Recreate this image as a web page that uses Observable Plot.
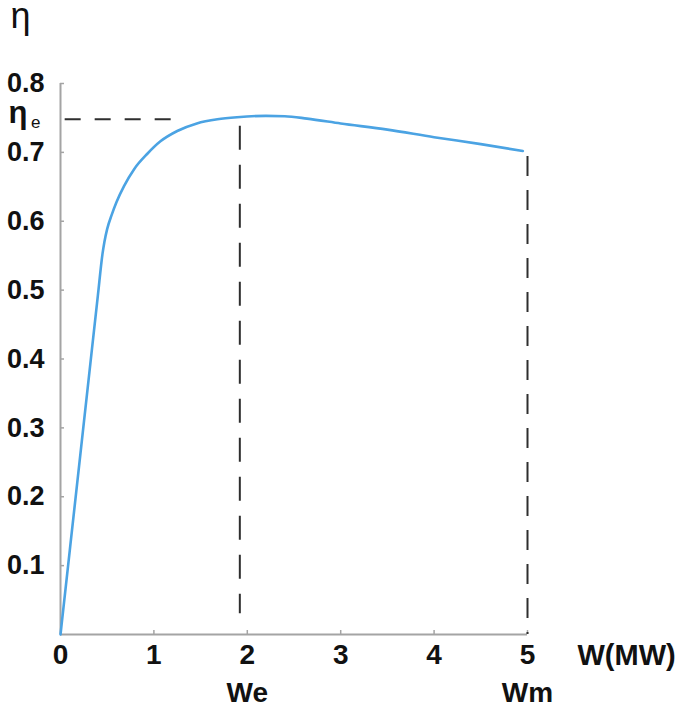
<!DOCTYPE html>
<html>
<head>
<meta charset="utf-8">
<script src="https://cdn.jsdelivr.net/npm/d3@7"></script>
<script src="https://cdn.jsdelivr.net/npm/@observablehq/plot@0.6"></script>
<style>
  html, body { margin: 0; padding: 0; background: #fff; }
</style>
</head>
<body>
<div id="chart"></div>
<script>
// power W (MW) and efficiency eta
const powerW = [0, 0.1, 0.2, 0.3, 0.4, 0.45, 0.47, 0.5, 0.55, 0.6, 0.68, 0.79, 0.93, 1.07, 1.25, 1.46, 1.68, 1.89, 2.2, 2.4, 2.64, 3.0, 3.5, 4.0, 4.5, 4.95];
const etaVals = [0, 0.123, 0.246, 0.369, 0.492, 0.553, 0.570, 0.589, 0.610, 0.628, 0.651, 0.676, 0.698, 0.716, 0.731, 0.742, 0.748, 0.751, 0.753, 0.7525, 0.749, 0.742, 0.733, 0.722, 0.712, 0.702];

const xTicks = [0, 1, 2, 3, 4, 5];
const yTicks = [0.1, 0.2, 0.3, 0.4, 0.5, 0.6, 0.7, 0.8];

// reference markers
const etaE = 0.748;     // ηe level
const etaEStart = 0.05; // horizontal dashed line extent
const etaEEnd = 1.31;
const We = 1.92;        // vertical dashed at We
const WeTop = 0.738;
const WeBottom = 0.03;
const Wm = 5;           // vertical dashed at Wm
const WmTop = 0.694;

const subLabelX = [2, 5];
const subLabelText = ["We", "Wm"];
const yTitle = "η";
const xTitle = "W(MW)";

const curve = powerW.map((w, i) => ({w, eta: etaVals[i]}));
const subLabels = subLabelX.map((x, i) => ({x, label: subLabelText[i]}));

const W = 685, H = 706;
const mL = 60, mR = 158, mT = 83, mB = 72;
const plotW = W - mL - mR, plotH = H - mT - mB;

const gray = "#a4a4a4";
const dark = "#2e2e2e";
const font = "Liberation Sans, Arial, sans-serif";

const chart = Plot.plot({
  width: W,
  height: H,
  marginLeft: mL,
  marginRight: mR,
  marginTop: mT,
  marginBottom: mB,
  x: {domain: [0, 5], axis: null, label: null},
  y: {domain: [0, 0.8], axis: null, label: null},
  style: {fontFamily: font, background: "#fff", overflow: "visible"},
  marks: [
    // axis lines
    Plot.ruleX([0], {y1: 0, y2: 0.8, stroke: gray, strokeWidth: 2}),
    Plot.ruleY([0], {x1: 0, x2: 5, stroke: gray, strokeWidth: 2}),
    // inward ticks
    Plot.tickX(xTicks.slice(1), {x: d => d, insetTop: plotH - 4, stroke: gray, strokeWidth: 1.5}),
    Plot.tickY(yTicks, {y: d => d, insetRight: plotW - 4, stroke: gray, strokeWidth: 1.5}),
    // tick labels
    Plot.axisX(xTicks, {label: null, tickSize: 0, tickPadding: 10, fontSize: 28, fontWeight: "bold", fill: "#111", tickFormat: d => String(d)}),
    Plot.axisY(yTicks, {label: null, tickSize: 0, tickPadding: 16, fontSize: 27, fontWeight: "bold", fill: "#111", tickFormat: d => d.toFixed(1), style: {letterSpacing: "1.5px"}}),
    // dashed reference lines
    Plot.ruleY([etaE], {x1: etaEStart, x2: etaEEnd, stroke: dark, strokeWidth: 2, strokeDasharray: "16,14"}),
    Plot.ruleX([We], {y1: WeTop, y2: WeBottom, stroke: dark, strokeWidth: 2, strokeDasharray: "24,15"}),
    Plot.ruleX([Wm], {y1: WmTop, y2: 0, stroke: dark, strokeWidth: 2, strokeDasharray: "20,14"}),
    // efficiency curve
    Plot.line(curve, {x: "w", y: "eta", stroke: "#4ba3e3", strokeWidth: 2.6, curve: "monotone-x"}),
    // ηe label
    Plot.text([etaE], {x: 0, y: d => d, text: () => "η", textAnchor: "end", lineAnchor: "bottom", dx: -33, dy: 4, fontSize: 31, fontWeight: "bold", fill: "#111"}),
    Plot.text([etaE], {x: 0, y: d => d, text: () => "e", textAnchor: "end", lineAnchor: "bottom", dx: -20, dy: 9, fontSize: 17, fill: "#111"}),
    // top-left η axis title
    Plot.text([yTitle], {text: d => d, frameAnchor: "top-left", textAnchor: "start", lineAnchor: "bottom", dx: -50, dy: -56, fontSize: 36, fill: "#111"}),
    // x axis title
    Plot.text([xTitle], {text: d => d, frameAnchor: "bottom-right", textAnchor: "start", lineAnchor: "top", dx: 50, dy: 10, fontSize: 29, fontWeight: "bold", fill: "#111"}),
    // We / Wm labels under ticks
    Plot.text(subLabels, {x: "x", text: "label", frameAnchor: "bottom", lineAnchor: "bottom", dy: 67, fontSize: 28, fontWeight: "bold", fill: "#111"})
  ]
});

document.getElementById("chart").appendChild(chart);
</script>
</body>
</html>
